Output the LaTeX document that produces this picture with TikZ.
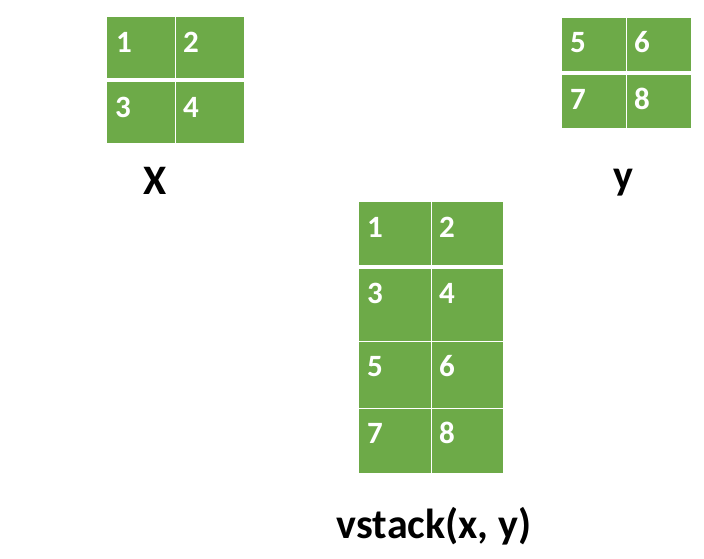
\documentclass[tikz,border=0pt]{standalone}
\usepackage{fontspec}
\setmainfont{Carlito}
\usepackage{xcolor}
\definecolor{cellgreen}{HTML}{6DAA48}

\tikzset{
  cell/.style={rectangle, fill=cellgreen, draw=white, line width=0.8pt, anchor=north west, inner sep=0pt},
  num/.style={text=white, font=\fontsize{31}{31}\selectfont\bfseries, anchor=base west, inner sep=0pt},
  lbl/.style={font=\fontsize{42}{42}\selectfont\bfseries, anchor=base, inner sep=0pt}
}

\begin{document}
\begin{tikzpicture}[x=1pt, y=-1pt]
      \useasboundingbox (0,0) rectangle (704,558);

      % matrix x
      \node[cell, minimum width=69pt, minimum height=62pt, name=x11] at (106,16) {};
      \node[cell, minimum width=69pt, minimum height=62pt, name=x12] at (175,16) {};
      \node[cell, minimum width=69pt, minimum height=62pt, name=x21] at (106,81) {};
      \node[cell, minimum width=69pt, minimum height=62pt, name=x22] at (175,81) {};
      \node[num, name=nx11] at ([shift={(10,36)}]x11.north west) {1};
      \node[num, name=nx12] at ([shift={(8,36)}]x12.north west) {2};
      \node[num, name=nx21] at ([shift={(9,36)}]x21.north west) {3};
      \node[num, name=nx22] at ([shift={(8,36)}]x22.north west) {4};
      \node[lbl, name=xlabel] at (155,194) {X};

      % matrix y
      \node[cell, minimum width=65pt, minimum height=54pt, name=y11] at (561,17) {};
      \node[cell, minimum width=65pt, minimum height=54pt, name=y12] at (626,17) {};
      \node[cell, minimum width=65pt, minimum height=54pt, name=y21] at (561,74) {};
      \node[cell, minimum width=65pt, minimum height=54pt, name=y22] at (626,74) {};
      \node[num, name=ny11] at ([shift={(9,35)}]y11.north west) {5};
      \node[num, name=ny12] at ([shift={(8,35)}]y12.north west) {6};
      \node[num, name=ny21] at ([shift={(9,35)}]y21.north west) {7};
      \node[num, name=ny22] at ([shift={(8,35)}]y22.north west) {8};
      \node[lbl, name=ylabel] at (623,189) {y};

      % stacked result
      \node[cell, minimum width=73pt, minimum height=64pt, name=s11] at (358,201) {};
      \node[cell, minimum width=72pt, minimum height=64pt, name=s12] at (431,201) {};
      \node[cell, minimum width=73pt, minimum height=73pt, name=s21] at (358,268) {};
      \node[cell, minimum width=72pt, minimum height=73pt, name=s22] at (431,268) {};
      \node[cell, minimum width=73pt, minimum height=67pt, name=s31] at (358,341) {};
      \node[cell, minimum width=72pt, minimum height=67pt, name=s32] at (431,341) {};
      \node[cell, minimum width=73pt, minimum height=65pt, name=s41] at (358,408) {};
      \node[cell, minimum width=72pt, minimum height=65pt, name=s42] at (431,408) {};
      \node[num, name=ns11] at ([shift={(9,36)}]s11.north west) {1};
      \node[num, name=ns12] at ([shift={(8,36)}]s12.north west) {2};
      \node[num, name=ns21] at ([shift={(9,35)}]s21.north west) {3};
      \node[num, name=ns22] at ([shift={(8,35)}]s22.north west) {4};
      \node[num, name=ns31] at ([shift={(9,35)}]s31.north west) {5};
      \node[num, name=ns32] at ([shift={(8,35)}]s32.north west) {6};
      \node[num, name=ns41] at ([shift={(9,35)}]s41.north west) {7};
      \node[num, name=ns42] at ([shift={(8,35)}]s42.north west) {8};
      \node[lbl, name=vlabel] at (434,538) {vstack(x, y)};
   \end{tikzpicture}
\end{document}
